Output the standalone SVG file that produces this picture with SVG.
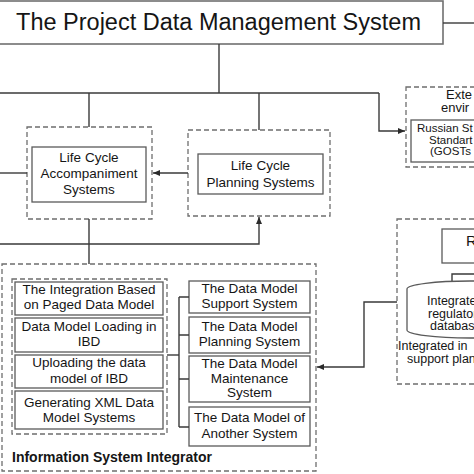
<svg xmlns="http://www.w3.org/2000/svg" width="474" height="474" viewBox="0 0 474 474">
<style>
.bg{fill:#ffffff}
.box{fill:#ffffff;stroke:#5a5a5a;stroke-width:1.3}
.dash{fill:none;stroke:#6e6e6e;stroke-width:1.3;stroke-dasharray:5 3}
.ln{fill:none;stroke:#3a3a3a;stroke-width:1.4}
.t{font-family:"Liberation Sans",Arial,sans-serif;font-size:13.5px;fill:#151515;text-anchor:middle}
.ts{font-family:"Liberation Sans",Arial,sans-serif;fill:#151515}
.b{font-family:"Liberation Sans",Arial,sans-serif;font-size:14px;font-weight:bold;fill:#151515}
</style>
<defs>
<marker id="ah" markerUnits="userSpaceOnUse" markerWidth="8" markerHeight="8" refX="7" refY="3.5" orient="auto">
<path d="M0,0.5 L7,3.5 L0,6.5 Z" fill="#2a2a2a"/>
</marker>
</defs>
<rect class="bg" x="0" y="0" width="474" height="474"/>

<g id="pdm">
<rect x="-5" y="1" width="448" height="43" fill="#ffffff" stroke="#707070" stroke-width="1.6"/>
<text class="ts" x="218.5" y="30" font-size="23.5" text-anchor="middle">The Project Data Management System</text>
</g>

<g id="accompaniment">
<rect class="dash" x="27" y="127" width="125" height="92"/>
<rect class="box" x="32" y="147" width="114" height="55"/>
<text class="t" x="89" y="161.5">Life Cycle</text>
<text class="t" x="89" y="177.5">Accompaniment</text>
<text class="t" x="89" y="193.5">Systems</text>
</g>

<g id="planning">
<rect class="dash" x="188" y="130" width="142" height="86"/>
<rect class="box" x="198" y="154" width="125" height="40"/>
<text class="t" x="260.5" y="170">Life Cycle</text>
<text class="t" x="260.5" y="186.5">Planning Systems</text>
</g>

<g id="external">
<rect class="dash" x="406" y="87" width="90" height="80"/>
<text class="ts" x="446" y="98.5" font-size="13">Exte</text>
<text class="ts" x="441" y="111.5" font-size="13">envir</text>
<rect class="box" x="411" y="120" width="80" height="42"/>
<text class="ts" x="417" y="132" font-size="11.5">Russian St</text>
<text class="ts" x="429" y="143.5" font-size="11.5">Standart</text>
<text class="ts" x="430" y="155" font-size="11.5">(GOSTs</text>
</g>

<g id="regulatory">
<rect class="dash" x="397" y="219" width="100" height="165"/>
<rect class="box" x="442" y="229" width="60" height="34"/>
<text class="ts" x="466" y="246" font-size="15">R</text>
<path class="ln" d="M452,283 L452,274 L480,274"/>
<path class="box" d="M407,289 A63,8 0 0 1 533,289 L533,330 A63,8 0 0 1 407,330 Z"/>
<text class="ts" x="427" y="305" font-size="12.5">Integrate</text>
<text class="ts" x="428" y="317.5" font-size="12.5">regulator</text>
<text class="ts" x="430" y="330" font-size="12.5">databas</text>
<text class="ts" x="398" y="350" font-size="12.5">Integrated in</text>
<text class="ts" x="407" y="363" font-size="12.5">support plan</text>
</g>

<g id="integrator">
<rect class="dash" x="2" y="264" width="314" height="207"/>
<text class="b" x="12" y="462">Information System Integrator</text>
</g>

<g id="ibd-group">
<rect class="dash" x="12" y="279" width="155" height="155"/>
</g>
<g id="ibd-integration">
<rect class="box" x="15" y="282" width="148" height="33"/>
<text class="t" x="89" y="294">The Integration Based</text>
<text class="t" x="89" y="309">on Paged Data Model</text>
</g>
<g id="ibd-loading">
<rect class="box" x="15" y="318" width="148" height="34"/>
<text class="t" x="89" y="331">Data Model Loading in</text>
<text class="t" x="89" y="346">IBD</text>
</g>
<g id="ibd-uploading">
<rect class="box" x="15" y="355" width="148" height="33"/>
<text class="t" x="89" y="367">Uploading the data</text>
<text class="t" x="89" y="383">model of IBD</text>
</g>
<g id="ibd-xml">
<rect class="box" x="15" y="391" width="148" height="38"/>
<text class="t" x="89" y="407">Generating XML Data</text>
<text class="t" x="89" y="422">Model Systems</text>
</g>

<g id="dm-support">
<rect class="box" x="189" y="281" width="121" height="32"/>
<text class="t" x="249.5" y="293">The Data Model</text>
<text class="t" x="249.5" y="308">Support System</text>
</g>
<g id="dm-planning">
<rect class="box" x="189" y="317" width="121" height="36"/>
<text class="t" x="249.5" y="331">The Data Model</text>
<text class="t" x="249.5" y="346">Planning System</text>
</g>
<g id="dm-maintenance">
<rect class="box" x="189" y="356" width="121" height="46"/>
<text class="t" x="249.5" y="368">The Data Model</text>
<text class="t" x="249.5" y="383">Maintenance</text>
<text class="t" x="249.5" y="397">System</text>
</g>
<g id="dm-another">
<rect class="box" x="189" y="407" width="121" height="39"/>
<text class="t" x="249.5" y="422">The Data Model of</text>
<text class="t" x="249.5" y="438">Another System</text>
</g>

<g id="connectors">
<path class="ln" d="M443,23 L474,23"/>
<path class="ln" d="M219,44 L219,93"/>
<path class="ln" d="M0,93 L379,93"/>
<path class="ln" d="M89,93 L89,127"/>
<path class="ln" d="M259,93 L259,130"/>
<path class="ln" d="M379,93 L379,131 L405,131" marker-end="url(#ah)"/>
<path class="ln" d="M0,173 L27,173"/>
<path class="ln" d="M188,173 L153,173" marker-end="url(#ah)"/>
<path class="ln" d="M89,219 L89,264"/>
<path class="ln" d="M0,244 L259,244 L259,217" marker-end="url(#ah)"/>
<path class="ln" d="M167,355 L179,355"/>
<path class="ln" d="M179,297 L179,427"/>
<path class="ln" d="M179,297 L189,297 M179,335 L189,335 M179,379 L189,379 M179,427 L189,427"/>
<path class="ln" d="M397,302 L364,302 L364,367 L317,367" marker-end="url(#ah)"/>
</g>
</svg>
